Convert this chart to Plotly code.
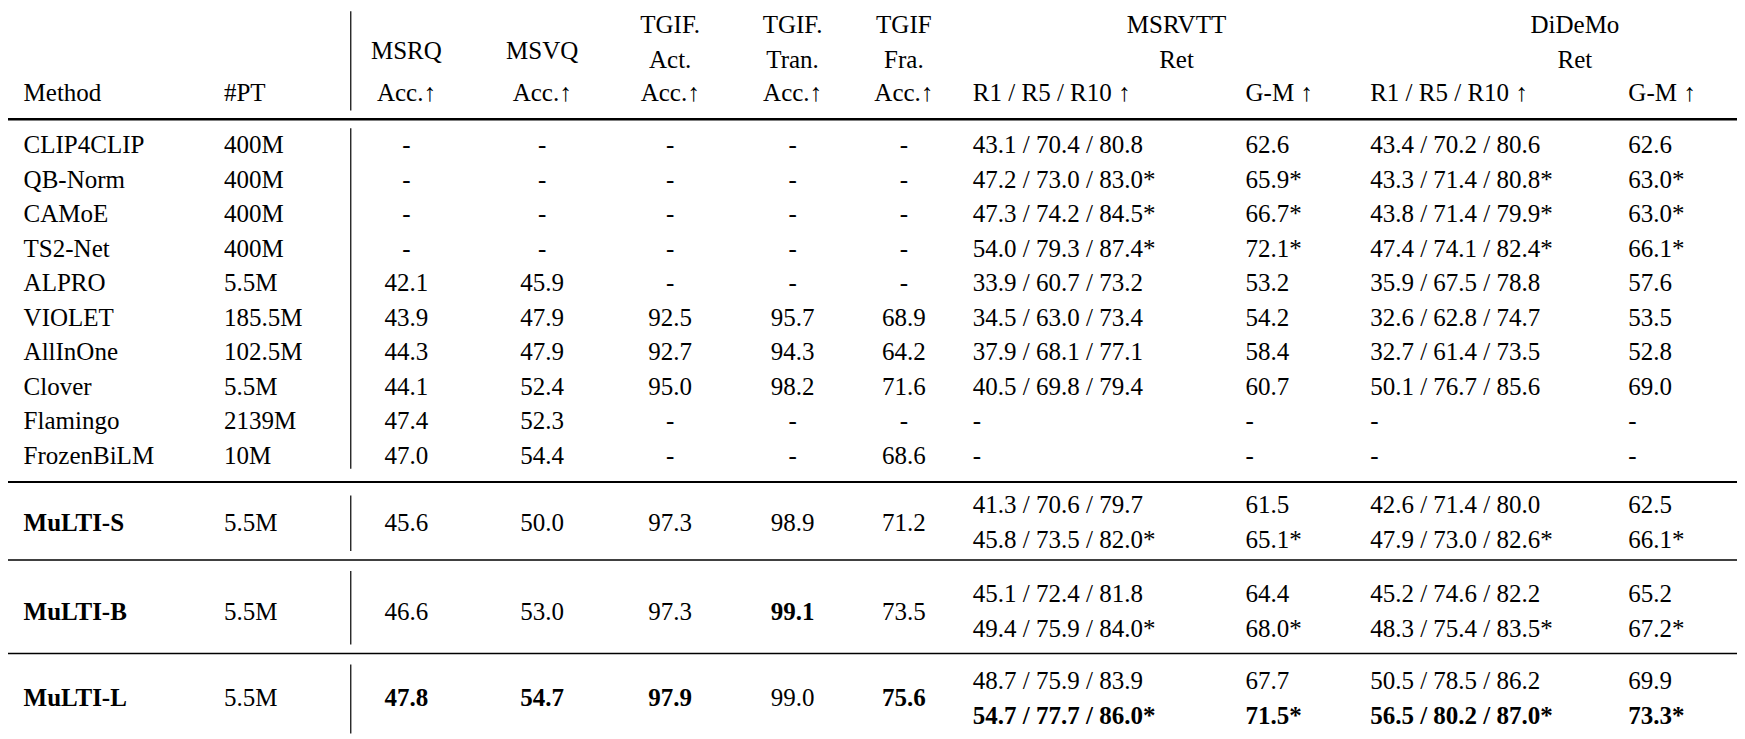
import plotly.graph_objects as go

W, H = 1745, 739
S = 1745 / 1568  # positions below were read in a 1568-wide view
FONT = "Liberation Serif"
FS = 25

methods = ["CLIP4CLIP", "QB-Norm", "CAMoE", "TS2-Net", "ALPRO", "VIOLET", "AllInOne",
           "Clover", "Flamingo", "FrozenBiLM"]
pt = ["400M", "400M", "400M", "400M", "5.5M", "185.5M", "102.5M", "5.5M", "2139M", "10M"]
msrq = ["-", "-", "-", "-", "42.1", "43.9", "44.3", "44.1", "47.4", "47.0"]
msvq = ["-", "-", "-", "-", "45.9", "47.9", "47.9", "52.4", "52.3", "54.4"]
act = ["-", "-", "-", "-", "-", "92.5", "92.7", "95.0", "-", "-"]
tran = ["-", "-", "-", "-", "-", "95.7", "94.3", "98.2", "-", "-"]
fra = ["-", "-", "-", "-", "-", "68.9", "64.2", "71.6", "-", "68.6"]
msrvtt_r = ["43.1 / 70.4 / 80.8", "47.2 / 73.0 / 83.0*", "47.3 / 74.2 / 84.5*",
            "54.0 / 79.3 / 87.4*", "33.9 / 60.7 / 73.2", "34.5 / 63.0 / 73.4",
            "37.9 / 68.1 / 77.1", "40.5 / 69.8 / 79.4", "-", "-"]
msrvtt_gm = ["62.6", "65.9*", "66.7*", "72.1*", "53.2", "54.2", "58.4", "60.7", "-", "-"]
didemo_r = ["43.4 / 70.2 / 80.6", "43.3 / 71.4 / 80.8*", "43.8 / 71.4 / 79.9*",
            "47.4 / 74.1 / 82.4*", "35.9 / 67.5 / 78.8", "32.6 / 62.8 / 74.7",
            "32.7 / 61.4 / 73.5", "50.1 / 76.7 / 85.6", "-", "-"]
didemo_gm = ["62.6", "63.0*", "63.0*", "66.1*", "57.6", "53.5", "52.8", "69.0", "-", "-"]

# MuLTI variants (two result lines each for retrieval)
ours = ["<b>MuLTI-S</b>", "<b>MuLTI-B</b>", "<b>MuLTI-L</b>"]
ours_pt = ["5.5M", "5.5M", "5.5M"]
ours_msrq = ["45.6", "46.6", "<b>47.8</b>"]
ours_msvq = ["50.0", "53.0", "<b>54.7</b>"]
ours_act = ["97.3", "97.3", "<b>97.9</b>"]
ours_tran = ["98.9", "<b>99.1</b>", "99.0"]
ours_fra = ["71.2", "73.5", "<b>75.6</b>"]
ours_msrvtt_r1 = ["41.3 / 70.6 / 79.7", "45.1 / 72.4 / 81.8", "48.7 / 75.9 / 83.9"]
ours_msrvtt_r2 = ["45.8 / 73.5 / 82.0*", "49.4 / 75.9 / 84.0*", "<b>54.7 / 77.7 / 86.0*</b>"]
ours_msrvtt_gm1 = ["61.5", "64.4", "67.7"]
ours_msrvtt_gm2 = ["65.1*", "68.0*", "<b>71.5*</b>"]
ours_didemo_r1 = ["42.6 / 71.4 / 80.0", "45.2 / 74.6 / 82.2", "50.5 / 78.5 / 86.2"]
ours_didemo_r2 = ["47.9 / 73.0 / 82.6*", "48.3 / 75.4 / 83.5*", "<b>56.5 / 80.2 / 87.0*</b>"]
ours_didemo_gm1 = ["62.5", "65.2", "69.9"]
ours_didemo_gm2 = ["66.1*", "67.2*", "<b>73.3*</b>"]

row_y = [125 + 31 * i for i in range(len(methods))]
ours_y = [464, 544, 622]
d = 15.5

fig = go.Figure()


def col(x, ys, texts, pos):
    fig.add_trace(go.Scatter(x=[x * S] * len(ys), y=[y * S for y in ys], text=texts,
                             mode="text", textposition=pos, hoverinfo="skip",
                             textfont=dict(family=FONT, size=FS, color="black")))


L, C = "middle right", "middle center"
up = [y - d for y in ours_y]
dn = [y + d for y in ours_y]
col(14, row_y, methods, L)
col(14, ours_y, ours, L)
col(194, row_y + ours_y, pt + ours_pt, L)
for x, a, b in [(358, msrq, ours_msrq), (480, msvq, ours_msvq), (595, act, ours_act),
                (705, tran, ours_tran), (805, fra, ours_fra)]:
    col(x, row_y + ours_y, a + b, C)
for x, a, b1, b2 in [(867, msrvtt_r, ours_msrvtt_r1, ours_msrvtt_r2),
                     (1112, msrvtt_gm, ours_msrvtt_gm1, ours_msrvtt_gm2),
                     (1224, didemo_r, ours_didemo_r1, ours_didemo_r2),
                     (1456, didemo_gm, ours_didemo_gm1, ours_didemo_gm2)]:
    col(x, row_y + up + dn, a + b1 + b2, L)

# header
col(14, [78], ["Method"], L)
col(194, [78], ["#PT"], L)
col(358, [40, 78], ["MSRQ", "Acc.↑"], C)
col(480, [40, 78], ["MSVQ", "Acc.↑"], C)
col(595, [17, 48, 78], ["TGIF.", "Act.", "Acc.↑"], C)
col(705, [17, 48, 78], ["TGIF.", "Tran.", "Acc.↑"], C)
col(805, [17, 48, 78], ["TGIF", "Fra.", "Acc.↑"], C)
col(1050, [17, 48], ["MSRVTT", "Ret"], C)
col(1408, [17, 48], ["DiDeMo", "Ret"], C)
col(867, [78], ["R1 / R5 / R10 ↑"], L)
col(1112, [78], ["G-M ↑"], L)
col(1224, [78], ["R1 / R5 / R10 ↑"], L)
col(1456, [78], ["G-M ↑"], L)

shapes = []
for y, w in [(100, 2.5), (426, 2), (496, 1.5), (580, 1.5), (660, 2.5)]:
    shapes.append(dict(type="line", x0=0, x1=W, y0=y * S, y1=y * S,
                       line=dict(color="black", width=w)))
for y0, y1 in [(3, 92), (108, 414), (438, 488), (506, 572), (590, 652)]:
    shapes.append(dict(type="line", x0=308 * S, x1=308 * S, y0=y0 * S, y1=y1 * S,
                       line=dict(color="black", width=1.2)))

fig.update_layout(
    width=W, height=H, margin=dict(l=0, r=0, t=0, b=0),
    plot_bgcolor="white", paper_bgcolor="white", showlegend=False,
    xaxis=dict(range=[0, W], visible=False, fixedrange=True),
    yaxis=dict(range=[H, 0], visible=False, fixedrange=True),
    shapes=shapes,
)

fig.write_html("out.html")
